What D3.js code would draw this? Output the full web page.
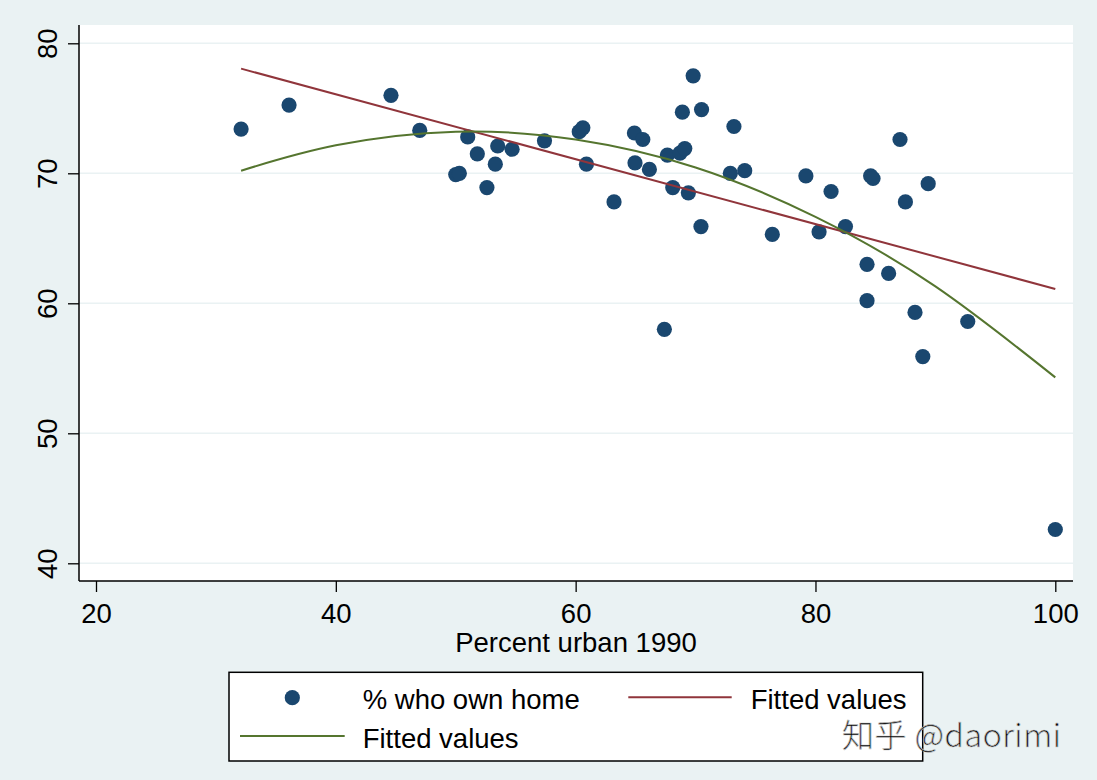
<!DOCTYPE html>
<html>
<head>
<meta charset="utf-8">
<script src="https://cdn.jsdelivr.net/npm/d3@7"></script>
<style>
  body { margin: 0; background: #eaf2f3; }
  text { font-family: "Liberation Sans", Arial, sans-serif; fill: #000; }
</style>
</head>
<body>
<div id="chart"></div>
<script>
// percent urban 1990 vs % who own home
var urban = [32.1, 36.1, 44.6, 47.0, 50.0, 50.3, 51.0, 51.8, 52.6, 53.3,
    53.5, 54.7, 57.4, 60.3, 60.6, 60.9, 63.2, 64.9, 65.6, 64.95,
    66.15, 67.4, 67.65, 68.1, 68.7, 69.1, 69.4, 68.9, 69.8, 70.5,
    70.45, 72.9, 73.2, 74.1, 76.4, 79.2, 80.3, 81.3, 82.5, 84.3,
    84.3, 84.6, 84.8, 86.1, 87.05, 87.5, 88.3, 89.4, 88.95, 92.7, 100];
var ownHome = [73.4, 75.25, 76.0, 73.3, 69.9, 70.0, 72.8, 71.5, 68.9, 70.7,
    72.1, 71.85, 72.5, 73.2, 73.5, 70.7, 67.8, 73.1, 72.6, 70.8,
    70.3, 58.0, 71.4, 68.9, 71.55, 71.9, 68.5, 74.7, 77.5, 74.9,
    65.9, 70.0, 73.6, 70.2, 65.3, 69.8, 65.5, 68.6, 65.9, 63.0,
    60.2, 69.8, 69.6, 62.3, 72.6, 67.8, 59.3, 69.2, 55.9, 58.6, 42.6];

// linear fit (read at its ends)
var linX = [32.1, 100];
var linY = [78.05, 61.1];

// quadratic fit
var quadX = [32.1, 40, 50, 60, 70, 80, 90, 100];
var quadY = [70.2, 72.15, 73.2, 72.6, 70.45, 66.65, 61.3, 54.3];

var xTicks = [20, 40, 60, 80, 100];
var yTicks = [40, 50, 60, 70, 80];

var width = 1097, height = 780;
var plot = { left: 79, top: 25, right: 1073, bottom: 581 };

var svg = d3.select("#chart").append("svg")
    .attr("width", width)
    .attr("height", height);

svg.append("rect")
    .attr("width", width).attr("height", height)
    .attr("fill", "#eaf2f3");

svg.append("rect")
    .attr("x", plot.left).attr("y", plot.top)
    .attr("width", plot.right - plot.left)
    .attr("height", plot.bottom - plot.top)
    .attr("fill", "#fff");

var x = d3.scaleLinear().domain([20, 100]).range([96, 1055.3]);
var y = d3.scaleLinear().domain([40, 80]).range([563.3, 43.3]);

// gridlines
svg.append("g").selectAll("line")
    .data(yTicks)
    .enter().append("line")
    .attr("x1", plot.left).attr("x2", plot.right)
    .attr("y1", d => y(d)).attr("y2", d => y(d))
    .attr("stroke", "#eaf2f3")
    .attr("stroke-width", 1.5);

// y axis
var yAxis = svg.append("g")
    .attr("transform", `translate(${plot.left},0)`)
    .call(d3.axisLeft(y).tickValues(yTicks).tickSize(11).tickFormat(d3.format("d")));
yAxis.select(".domain").remove();
yAxis.selectAll(".tick line").attr("stroke", "#000").attr("stroke-width", 1.3);
yAxis.selectAll(".tick text")
    .attr("transform", "rotate(-90)")
    .attr("x", 0)
    .attr("y", -21.7)
    .attr("dy", 0)
    .attr("text-anchor", "middle")
    .style("font-size", "27.5px")
    .style("font-family", "'Liberation Sans', Arial, sans-serif")
    .attr("fill", "#000");

// x axis
var xAxis = svg.append("g")
    .attr("transform", `translate(0,${plot.bottom})`)
    .call(d3.axisBottom(x).tickValues(xTicks).tickSize(11).tickFormat(d3.format("d")));
xAxis.select(".domain").remove();
xAxis.selectAll(".tick line").attr("stroke", "#000").attr("stroke-width", 1.3);
xAxis.selectAll(".tick text")
    .attr("y", 42.3)
    .attr("dy", 0)
    .style("font-size", "27.5px")
    .style("font-family", "'Liberation Sans', Arial, sans-serif")
    .attr("fill", "#000");

// axis lines span the plot region
svg.append("line")
    .attr("x1", plot.left).attr("x2", plot.left)
    .attr("y1", plot.top).attr("y2", plot.bottom)
    .attr("stroke", "#000").attr("stroke-width", 1.5);
svg.append("line")
    .attr("x1", plot.left).attr("x2", plot.right)
    .attr("y1", plot.bottom).attr("y2", plot.bottom)
    .attr("stroke", "#000").attr("stroke-width", 1.5);

svg.append("text")
    .attr("x", (plot.left + plot.right) / 2)
    .attr("y", 651.7)
    .attr("text-anchor", "middle")
    .style("font-size", "27.5px")
    .text("Percent urban 1990");

// points
svg.append("g").selectAll("circle")
    .data(urban.map((u, i) => [u, ownHome[i]]))
    .enter().append("circle")
    .attr("cx", d => x(d[0]))
    .attr("cy", d => y(d[1]))
    .attr("r", 7.6)
    .attr("fill", "#1a476f");

// fitted lines
var linLine = d3.line().x(d => x(d[0])).y(d => y(d[1]));
svg.append("path")
    .datum(linX.map((v, i) => [v, linY[i]]))
    .attr("d", linLine)
    .attr("fill", "none")
    .attr("stroke", "#90353b")
    .attr("stroke-width", 2);

var quadLine = d3.line().curve(d3.curveNatural).x(d => x(d[0])).y(d => y(d[1]));
svg.append("path")
    .datum(quadX.map((v, i) => [v, quadY[i]]))
    .attr("d", quadLine)
    .attr("fill", "none")
    .attr("stroke", "#55752f")
    .attr("stroke-width", 2);

// legend
var legend = svg.append("g");
legend.append("rect")
    .attr("x", 229).attr("y", 672.3)
    .attr("width", 693.7).attr("height", 88.7)
    .attr("fill", "#fff")
    .attr("stroke", "#000")
    .attr("stroke-width", 1.5);
legend.append("circle")
    .attr("cx", 292.3).attr("cy", 697.7).attr("r", 7.6)
    .attr("fill", "#1a476f");
legend.append("line")
    .attr("x1", 628.3).attr("x2", 731.7)
    .attr("y1", 697.3).attr("y2", 697.3)
    .attr("stroke", "#90353b").attr("stroke-width", 2);
legend.append("line")
    .attr("x1", 240).attr("x2", 344.7)
    .attr("y1", 736).attr("y2", 736)
    .attr("stroke", "#55752f").attr("stroke-width", 2);
legend.append("text").attr("x", 362.7).attr("y", 709)
    .style("font-size", "27.5px").text("% who own home");
legend.append("text").attr("x", 750.7).attr("y", 709)
    .style("font-size", "27.5px").text("Fitted values");
legend.append("text").attr("x", 362.7).attr("y", 747.5)
    .style("font-size", "27.5px").text("Fitted values");

// watermark
svg.append("text")
    .attr("x", 842).attr("y", 747)
    .style("font-family", "'Noto Sans CJK SC', sans-serif")
    .style("font-size", "32px")
    .style("font-weight", 300)
    .style("letter-spacing", "0.6px")
    .attr("fill", "#fff")
    .attr("stroke", "#c4c4c4")
    .attr("stroke-width", 0.7)
    .text("知乎 @daorimi");
</script>
</body>
</html>
